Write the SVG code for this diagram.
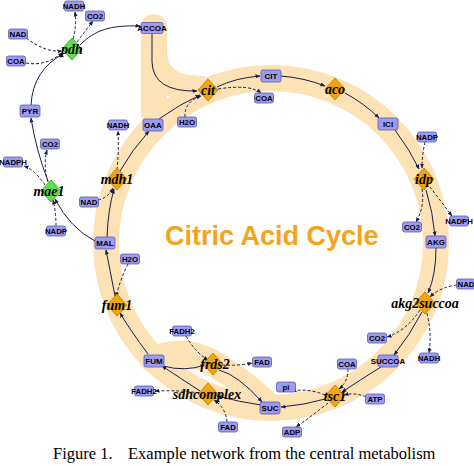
<svg xmlns="http://www.w3.org/2000/svg" width="474" height="466" viewBox="0 0 474 466">
<style>
.band{fill:none;stroke:#fce2b4;stroke-width:26;stroke-linecap:round}
.m rect{fill:#9b9bf2;stroke:#5b5bb0;stroke-width:0.8}
.m text{font-family:"Liberation Sans",Arial,sans-serif;font-weight:bold;font-size:7.8px;fill:#000;text-anchor:middle}
.m.k text{font-size:8px}
.o polygon{fill:#f2a60c;stroke:#b87a00;stroke-width:0.8}
.g polygon{fill:#5de04a;stroke:#2f9a22;stroke-width:0.8}
.r text{font-family:"Liberation Serif","Times New Roman",serif;font-style:italic;font-weight:bold;font-size:14px;fill:#000;text-anchor:middle}
.s,.d{fill:none;stroke:#1c1c4c;stroke-width:1;marker-end:url(#ah)}
.d{stroke-dasharray:3 2}
</style>
<defs>
<marker id="ah" viewBox="0 0 10 10" refX="9" refY="5" markerWidth="5" markerHeight="5" orient="auto" markerUnits="userSpaceOnUse"><path d="M0,1 L10,5 L0,9 z" fill="#1c1c4c"/></marker>
</defs>
<rect width="474" height="466" fill="#fff"/>
<g id="band">
<circle class="band" cx="271" cy="243" r="165"/>
<path class="band" d="M154,27 L154,112"/>
<path class="band" d="M154,52 Q155,88 200,89"/>
<path class="band" d="M153,360 Q183,346 213,363 Q243,381 268,405"/>
</g>
<text x="165" y="245" font-family="Liberation Sans,Arial,sans-serif" font-weight="bold" font-size="27" fill="#f5a31a">Citric Acid Cycle</text>
<g id="connectors">
<path class="s" d="M31,105 Q33,70 63,54"/>
<path class="d" d="M26,38 C40,48 50,52 62,51"/>
<path class="d" d="M26,63 C42,66 52,60 63,53"/>
<path class="d" d="M73,39 Q77,25 75,12"/>
<path class="d" d="M77,42 Q86,30 93,21"/>
<path class="s" d="M80,45 C95,30 110,25 140,26"/>
<path class="s" d="M152,34 L152,62 Q153,92 197,91"/>
<path class="s" d="M159,119 Q180,104 200,95"/>
<path class="d" d="M185,117 Q184,102 201,96"/>
<path class="s" d="M217,87 Q235,78 260,76"/>
<path class="d" d="M218,89 Q250,84 261,93"/>
<path class="s" d="M281,76 Q305,78 325,86"/>
<path class="s" d="M345,93 Q365,104 379,118"/>
<path class="s" d="M395,130 Q410,150 419,169"/>
<path class="d" d="M425,142 Q422,155 422,168"/>
<path class="d" d="M422,189 Q425,206 416,222"/>
<path class="d" d="M430,187 Q440,200 452,216"/>
<path class="s" d="M426,190 Q433,212 435,236"/>
<path class="s" d="M436,248 Q436,275 428,293"/>
<path class="d" d="M457,285 Q440,287 430,297"/>
<path class="d" d="M420,310 Q406,331 387,337"/>
<path class="d" d="M427,313 Q432,335 429,353"/>
<path class="s" d="M422,312 Q410,335 394,355"/>
<path class="s" d="M381,367 Q360,380 342,392"/>
<path class="d" d="M348,369 Q348,382 339,389"/>
<path class="d" d="M366,397 Q355,392 344,395"/>
<path class="d" d="M325,395 Q308,388 292,391"/>
<path class="s" d="M325,399 Q305,405 281,407"/>
<path class="d" d="M328,403 Q312,416 296,427"/>
<path class="s" d="M261,405 Q240,402 217,396"/>
<path class="d" d="M227,422 Q226,408 214,400"/>
<path class="s" d="M200,391 Q180,378 162,366"/>
<path class="d" d="M199,393 Q180,390 155,391"/>
<path class="s" d="M163,366 Q185,372 205,365"/>
<path class="d" d="M186,336 Q195,352 208,360"/>
<path class="d" d="M222,365 Q238,366 252,363"/>
<path class="s" d="M219,370 Q238,375 262,402"/>
<path class="s" d="M148,354 Q130,330 120,313"/>
<path class="d" d="M128,264 Q120,280 116,297"/>
<path class="s" d="M115,296 Q110,270 106,250"/>
<path class="s" d="M107,237 Q108,210 114,189"/>
<path class="d" d="M98,200 Q108,198 113,188"/>
<path class="d" d="M117,170 Q119,150 118,131"/>
<path class="s" d="M120,171 Q132,150 149,131"/>
<path class="s" d="M95,241 Q70,228 55,199"/>
<path class="s" d="M48,181 Q36,150 31,118"/>
<path class="d" d="M56,226 Q56,212 53,200"/>
<path class="d" d="M45,185 Q35,170 24,166"/>
<path class="d" d="M48,182 Q43,165 47,150"/>
</g>
<g id="NADH_pdh" class="m"><rect x="64.5" y="1" width="19" height="10" rx="2"/><text x="74" y="8.8">NADH</text></g>
<g id="CO2_pdh" class="m"><rect x="85.5" y="11" width="19" height="10" rx="2"/><text x="95" y="18.8">CO2</text></g>
<g id="NAD_pdh" class="m"><rect x="8.5" y="29" width="19" height="10" rx="2"/><text x="18" y="36.8">NAD</text></g>
<g id="COA_pdh" class="m"><rect x="6.5" y="56" width="19" height="10" rx="2"/><text x="16" y="63.8">COA</text></g>
<g id="NADH_mdh" class="m"><rect x="108.5" y="120" width="19" height="10" rx="2"/><text x="118" y="127.8">NADH</text></g>
<g id="H2O_cit" class="m"><rect x="177.5" y="117" width="19" height="10" rx="2"/><text x="187" y="124.8">H2O</text></g>
<g id="COA_cit" class="m"><rect x="254.5" y="93" width="19" height="10" rx="2"/><text x="264" y="100.8">COA</text></g>
<g id="NADP_idp" class="m"><rect x="417.5" y="132" width="19" height="10" rx="2"/><text x="427" y="139.8">NADP</text></g>
<g id="CO2_idp" class="m"><rect x="402.5" y="222" width="19" height="10" rx="2"/><text x="412" y="229.8">CO2</text></g>
<g id="NADPH_idp" class="m"><rect x="449.5" y="216" width="19" height="10" rx="2"/><text x="459" y="223.8">NADPH</text></g>
<g id="NAD_akg" class="m"><rect x="456.5" y="279" width="19" height="10" rx="2"/><text x="466" y="286.8">NAD</text></g>
<g id="CO2_akg" class="m"><rect x="367.5" y="333" width="19" height="10" rx="2"/><text x="377" y="340.8">CO2</text></g>
<g id="NADH_akg" class="m"><rect x="419.5" y="353" width="19" height="10" rx="2"/><text x="429" y="360.8">NADH</text></g>
<g id="COA_tsc" class="m"><rect x="337.5" y="359" width="19" height="10" rx="2"/><text x="347" y="366.8">COA</text></g>
<g id="ATP" class="m"><rect x="365.5" y="394" width="19" height="10" rx="2"/><text x="375" y="401.8">ATP</text></g>
<g id="pi" class="m"><rect x="276.5" y="382" width="19" height="10" rx="2"/><text x="286" y="389.8">pi</text></g>
<g id="ADP" class="m"><rect x="282.5" y="427" width="19" height="10" rx="2"/><text x="292" y="434.8">ADP</text></g>
<g id="FAD_sdh" class="m"><rect x="218.5" y="422" width="19" height="10" rx="2"/><text x="228" y="429.8">FAD</text></g>
<g id="FADH2_sdh" class="m"><rect x="134.5" y="386" width="19" height="10" rx="2"/><text x="144" y="393.8">FADH2</text></g>
<g id="FAD_frds" class="m"><rect x="252.5" y="357" width="19" height="10" rx="2"/><text x="262" y="364.8">FAD</text></g>
<g id="FADH2_frds" class="m"><rect x="172.5" y="326" width="19" height="10" rx="2"/><text x="182" y="333.8">FADH2</text></g>
<g id="H2O_fum" class="m"><rect x="120.5" y="254" width="19" height="10" rx="2"/><text x="130" y="261.8">H2O</text></g>
<g id="NAD_mdh" class="m"><rect x="79.5" y="197" width="19" height="10" rx="2"/><text x="89" y="204.8">NAD</text></g>
<g id="NADP_mae" class="m"><rect x="46.5" y="226" width="19" height="10" rx="2"/><text x="56" y="233.8">NADP</text></g>
<g id="NADPH_mae" class="m"><rect x="3.5" y="157" width="19" height="10" rx="2"/><text x="13" y="164.8">NADPH</text></g>
<g id="CO2_mae" class="m"><rect x="40.5" y="139" width="19" height="10" rx="2"/><text x="50" y="146.8">CO2</text></g>
<g id="ACCOA" class="m k"><rect x="141" y="22.5" width="22" height="11" rx="2"/><text x="152" y="31">ACCOA</text></g>
<g id="PYR" class="m k"><rect x="20" y="105" width="20" height="12" rx="2"/><text x="30" y="114">PYR</text></g>
<g id="OAA" class="m k"><rect x="143" y="119" width="20" height="12" rx="2"/><text x="153" y="128">OAA</text></g>
<g id="CIT" class="m k"><rect x="261" y="70" width="20" height="12" rx="2"/><text x="271" y="79">CIT</text></g>
<g id="ICI" class="m k"><rect x="378" y="118" width="20" height="12" rx="2"/><text x="388" y="127">ICI</text></g>
<g id="AKG" class="m k"><rect x="426" y="236" width="20" height="12" rx="2"/><text x="436" y="245">AKG</text></g>
<g id="SUCCOA" class="m k"><rect x="378" y="355" width="20" height="12" rx="2"/><text x="388" y="364">SUCCOA</text></g>
<g id="SUC" class="m k"><rect x="260" y="402" width="20" height="12" rx="2"/><text x="270" y="411">SUC</text></g>
<g id="FUM" class="m k"><rect x="144" y="355" width="20" height="12" rx="2"/><text x="154" y="364">FUM</text></g>
<g id="MAL" class="m k"><rect x="95" y="237" width="20" height="12" rx="2"/><text x="105" y="246">MAL</text></g>
<g id="pdh" class="r g"><polygon points="72,38 82,49 72,60 62,49"/><text x="72" y="54">pdh</text></g>
<g id="mae1" class="r g"><polygon points="51,180 61,191 51,202 41,191"/><text x="49" y="196">mae1</text></g>
<g id="cit" class="r o"><polygon points="208,79 218,90 208,101 198,90"/><text x="208" y="95">cit</text></g>
<g id="aco" class="r o"><polygon points="335,78 345,89 335,100 325,89"/><text x="335" y="94">aco</text></g>
<g id="idp" class="r o"><polygon points="424,168 434,179 424,190 414,179"/><text x="424" y="184">idp</text></g>
<g id="akg2succoa" class="r o"><polygon points="425,292 435,303 425,314 415,303"/><text x="425" y="308">akg2succoa</text></g>
<g id="tsc1" class="r o"><polygon points="335,385 345,396 335,407 325,396"/><text x="335" y="401">tsc1</text></g>
<g id="sdhcomplex" class="r o"><polygon points="208,383 218,394 208,405 198,394"/><text x="207" y="399">sdhcomplex</text></g>
<g id="frds2" class="r o"><polygon points="213,353 223,364 213,375 203,364"/><text x="215" y="369">frds2</text></g>
<g id="fum1" class="r o"><polygon points="117,294 127,305 117,316 107,305"/><text x="117" y="310">fum1</text></g>
<g id="mdh1" class="r o"><polygon points="117,168 127,179 117,190 107,179"/><text x="117" y="184">mdh1</text></g>
<g id="caption" font-family="Liberation Serif,Times New Roman,serif" font-size="16.5" fill="#000">
<text x="53" y="459">Figure 1.</text>
<text x="128" y="459">Example network from the central metabolism</text>
</g>
</svg>
